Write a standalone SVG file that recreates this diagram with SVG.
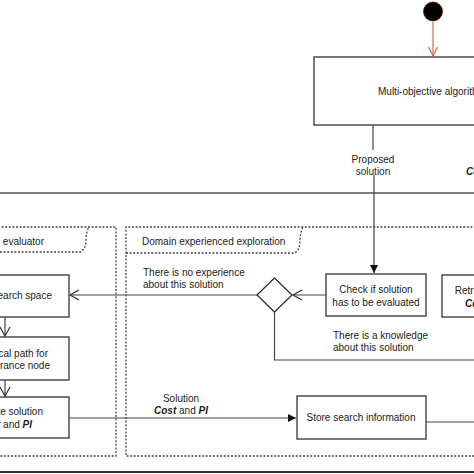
<svg xmlns="http://www.w3.org/2000/svg" width="474" height="474" viewBox="0 0 474 474">
<defs>
<style>
text{font-family:"Liberation Sans",Arial,sans-serif;font-size:10px;fill:#222}
.bi{font-weight:bold;font-style:italic}
.box{fill:#fff;stroke:#333;stroke-width:1.3}
.ln{fill:none;stroke:#444;stroke-width:1.2}
.dash{fill:none;stroke:#444;stroke-width:1.3;stroke-dasharray:2,1.6}
.m{text-anchor:middle}
.e{text-anchor:end}
</style>
<marker id="open" markerWidth="12" markerHeight="12" refX="10" refY="6" orient="auto" markerUnits="userSpaceOnUse">
<path d="M1,1 L10,6 L1,11" fill="none" stroke="#333" stroke-width="1.2"/>
</marker>
<marker id="openRed" markerWidth="12" markerHeight="12" refX="10" refY="6" orient="auto" markerUnits="userSpaceOnUse">
<path d="M1,1.5 L10,6 L1,10.5" fill="none" stroke="#d9634f" stroke-width="1.2"/>
</marker>
<marker id="fill" markerWidth="10" markerHeight="10" refX="8" refY="4" orient="auto" markerUnits="userSpaceOnUse">
<path d="M0,0 L8,4 L0,8 z" fill="#111"/>
</marker>
</defs>
<rect width="474" height="474" fill="#fff"/>

<g id="lanes">
<line x1="0" y1="193" x2="474" y2="193" stroke="#555" stroke-width="1.3"/>
<line x1="0" y1="472" x2="474" y2="472" stroke="#333" stroke-width="2.2"/>
<path class="dash" d="M-2,227 L116,227 L116,456 L-2,456"/>
<path class="dash" d="M0,252 L81,252 Q86,248 86,240 Q86,232 89,227"/>
<text x="44" y="245" class="e">evaluator</text>
<path class="dash" d="M476,227 L126,227 L126,456 L476,456"/>
<path class="dash" d="M126,253 L295,253 Q300,249 300,241 Q300,233 303,227"/>
<text x="142" y="245">Domain experienced exploration</text>
</g>

<g id="start"><circle cx="433" cy="11.5" r="9.5" fill="#000" stroke="#600" stroke-width="0.8"/></g>

<g id="multi"><rect class="box" x="314" y="57" width="200" height="68"/>
<text x="378" y="95">Multi-objective algorithm</text></g>

<g id="check"><rect class="box" x="326" y="274" width="100" height="42"/>
<text x="376" y="293" class="m">Check if solution</text>
<text x="376" y="306" class="m">has to be evaluated</text></g>

<g id="retrieve"><rect class="box" x="442" y="275" width="100" height="42"/>
<text x="492" y="294" class="m">Retrieve solution</text>
<text x="492" y="307" class="m"><tspan class="bi">Cost</tspan> and <tspan class="bi">PI</tspan></text></g>

<g id="decision"><path d="M274.5,278 L292,295 L274.5,312 L257,295 z" fill="#fff" stroke="#333" stroke-width="1.3"/></g>

<g id="search"><rect class="box" x="-5" y="275" width="74" height="42"/>
<text x="52" y="299" class="e">search space</text></g>

<g id="critical"><rect class="box" x="-5" y="337" width="74" height="43"/>
<text x="48" y="357" class="e">critical path for</text>
<text x="50" y="369" class="e">tolerance node</text></g>

<g id="evaluate"><rect class="box" x="-5" y="397" width="74" height="41"/>
<text x="43" y="415" class="e">Evaluate solution</text>
<text x="32" y="428" class="e"><tspan class="bi">Cost</tspan> and <tspan class="bi">PI</tspan></text></g>

<g id="store"><rect class="box" x="297" y="396" width="129" height="43"/>
<text x="361" y="421" class="m">Store search information</text></g>

<g id="connectors">
<line x1="433" y1="22" x2="433" y2="56" stroke="#d9634f" stroke-width="1.2" marker-end="url(#openRed)"/>
<line class="ln" x1="373" y1="125" x2="373" y2="150"/>
<line class="ln" x1="374" y1="175" x2="374" y2="273" marker-end="url(#fill)"/>
<line class="ln" x1="326" y1="295" x2="293" y2="295" marker-end="url(#open)"/>
<line class="ln" x1="257" y1="295" x2="70" y2="295" marker-end="url(#open)"/>
<polyline class="ln" points="274.5,312 274.5,360 476,360"/>
<line class="ln" x1="5" y1="317" x2="5" y2="336" marker-end="url(#open)"/>
<line class="ln" x1="5" y1="380" x2="5" y2="396" marker-end="url(#open)"/>
<line class="ln" x1="69" y1="418" x2="296" y2="418" marker-end="url(#fill)"/>
<line class="ln" x1="426" y1="422" x2="476" y2="422"/>
<text x="373" y="163" class="m">Proposed</text>
<text x="373" y="175" class="m">solution</text>
<text x="466" y="175"><tspan class="bi">Cost</tspan> and <tspan class="bi">PI</tspan></text>
<text x="143" y="276">There is no experience</text>
<text x="143" y="288">about this solution</text>
<text x="333" y="339">There is a knowledge</text>
<text x="333" y="351">about this solution</text>
<text x="181" y="402" class="m">Solution</text>
<text x="181" y="414" class="m"><tspan class="bi">Cost</tspan> and <tspan class="bi">PI</tspan></text>
</g>
</svg>
